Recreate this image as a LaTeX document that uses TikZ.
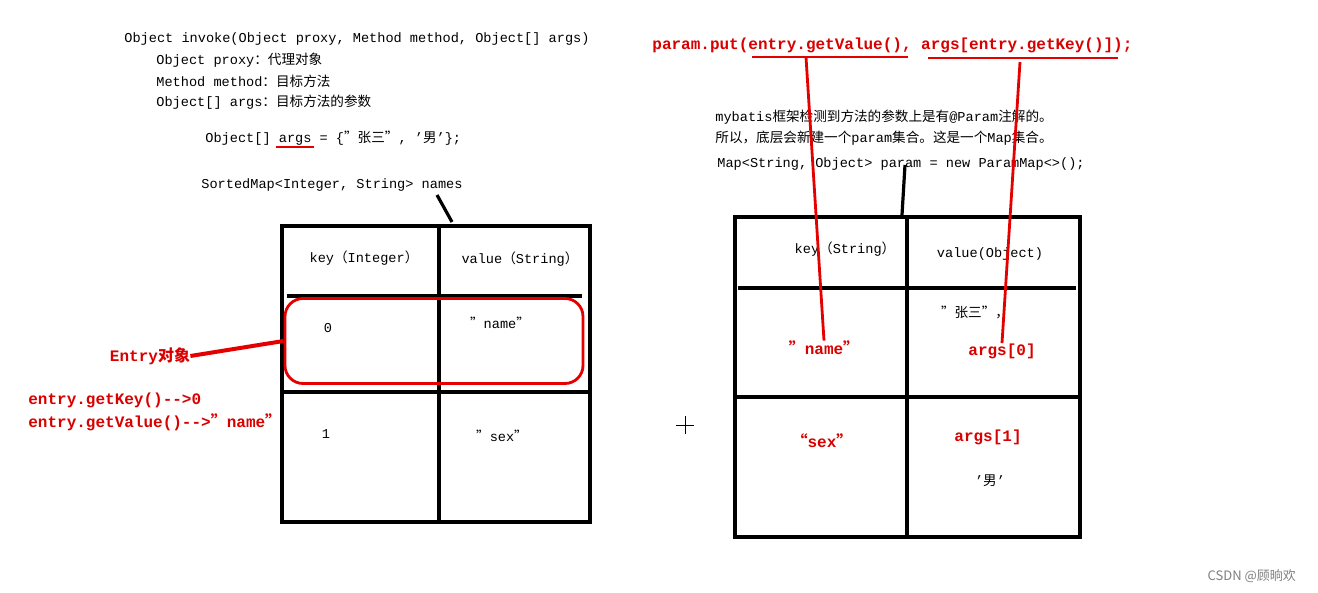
\documentclass[tikz,border=0pt]{standalone}
\usepackage{fontspec}
\setmainfont{Liberation Mono}
\newfontfamily\cjk{Noto Sans CJK SC}
\newcommand{\zh}[1]{{\cjk #1}}
\begin{document}
\begin{tikzpicture}[x=0.5pt,y=-0.5pt,
  txt/.style={font=\fontsize{6.8}{8}\selectfont,inner sep=0pt},
  rtxt/.style={font=\fontsize{8}{9}\selectfont\bfseries,text=red!85!black,inner sep=0pt},
  tline/.style={line width=1.6pt},
  rline/.style={red!90!black,line width=1.4pt}]
\useasboundingbox[fill=white] (0,0) rectangle (1318,593);
% top-left text
\node[txt,anchor=west] (t1) at (124,39) {Object invoke(Object proxy, Method method, Object[] args)};
\node[txt,anchor=west] (t2) at (156,60) {Object proxy\zh{：代理对象}};
\node[txt,anchor=west] (t3) at (156,81) {Method method\zh{：目标方法}};
\node[txt,anchor=west] (t4) at (156,102) {Object[] args\zh{：目标方法的参数}};
\node[txt,anchor=west] (t5) at (205,138) {Object[] args = \{\zh{”张三”}, '\zh{男}'\};};
\node[txt,anchor=west] (t6) at (201,185) {SortedMap<Integer, String> names};
\draw[rline] (276,147) -- (314,147);
% left table
\draw[tline] (282,226) rectangle (590,522);
\draw[tline] (439,226) -- (439,522);
\draw[tline] (287,296) -- (582,296);
\draw[tline] (282,392) -- (590,392);
\node[draw=red!90!black,line width=1.4pt,rounded corners=9pt,minimum width=149pt,minimum height=42.5pt] (entry) at (434,341) {};
\coordinate (nm) at (437,195);
\coordinate (tbl1) at (452,222);
\draw[line width=1.6pt] (nm) -- (tbl1);
\node[txt] (k1) at (364,258) {key\zh{（}Integer\zh{）}};
\node[txt] (v1) at (520,259) {value\zh{（}String\zh{）}};
\node[txt] (z0) at (328,328) {0};
\node[txt] (n0) at (500,323) {\zh{”}name\zh{”}};
\node[txt] (z1) at (326,434) {1};
\node[txt] (s1) at (502,436) {\zh{”}sex\zh{”}};
% left red
\node[rtxt] (eo) at (150,356) {Entry\zh{对象}};
\draw[rline,line width=2pt] (eo.east) -- (entry.west);
\node[rtxt,anchor=west] (gk) at (28,400) {entry.getKey()-{}-{}>0};
\node[rtxt,anchor=west] (gv) at (28,422) {entry.getValue()-{}-{}>\zh{”}name\zh{”}};
% right top
\node[rtxt,anchor=west] (put) at (652,45) {param.put(entry.getValue(), args[entry.getKey()]);};
\draw[rline] (752,57) -- (908,57);
\draw[rline] (928,58) -- (1118,58);
\node[txt,anchor=west] (m1) at (715,117) {mybatis\zh{框架检测到方法的参数上是有}@Param\zh{注解的。}};
\node[txt,anchor=west] (m2) at (715,138) {\zh{所以，底层会新建一个}param\zh{集合。这是一个}Map\zh{集合。}};
\node[txt,anchor=west] (m3) at (717,164) {Map<String, Object> param = new ParamMap<>();};
% right table
\draw[tline] (735,217) rectangle (1080,537);
\draw[tline] (907,217) -- (907,537);
\draw[tline] (738,288) -- (1076,288);
\draw[tline] (735,397) -- (1080,397);
\coordinate (pm) at (905,165);
\coordinate (tbl2) at (902,215);
\draw[line width=1.6pt] (pm) -- (tbl2);
\node[txt] (k2) at (845,249) {key\zh{（}String\zh{）}};
\node[txt] (v2) at (990,254) {value(Object)};
\node[txt] (zs) at (975,312) {\zh{”张三”，}};
\node[rtxt] (rn) at (824,348) {\zh{”}name\zh{”}};
\node[rtxt] (a0) at (1002,351) {args[0]};
\node[rtxt] (rs) at (822,441) {\zh{“}sex\zh{”}};
\node[rtxt] (a1) at (988,437) {args[1]};
\node[txt] (nan) at (990,481) {'\zh{男}'};
\coordinate (gvu) at (806,57);
\coordinate (gku) at (1020,62);
\draw[rline] (gvu) -- (rn.north);
\draw[rline] (gku) -- (a0.north);
% crosshair
\coordinate (ch) at (685,425);
\draw[line width=0.5pt] ([xshift=-4.5]ch) -- ([xshift=4.5]ch) ([yshift=-4.5]ch) -- ([yshift=4.5]ch);
\node[font=\cjk\fontsize{6.5}{7}\selectfont,text=gray,anchor=east] (wm) at (1303,576) {CSDN @顾晌欢};
\end{tikzpicture}
\end{document}
